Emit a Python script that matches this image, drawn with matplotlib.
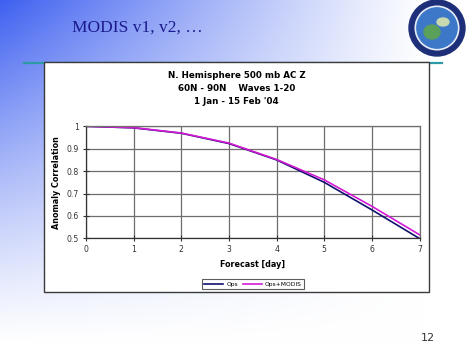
import numpy as np
import matplotlib.pyplot as plt
from matplotlib.patches import Rectangle, Ellipse
from matplotlib.lines import Line2D

# forecast day vs anomaly correlation
days = [0, 1, 2, 3, 4, 5, 6, 7]
ops = [1.0, 0.993, 0.969, 0.923, 0.850, 0.750, 0.627, 0.499]
ops_modis = [1.0, 0.994, 0.970, 0.925, 0.852, 0.761, 0.643, 0.516]

series_names = ['Ops', 'Ops+MODIS']
series_colors = ['#10106e', '#d419d4']

W, H = 474, 355
fig = plt.figure(figsize=(W / 100, H / 100), dpi=100)

# slide background: blue in the top-left corner fading to white
bg = fig.add_axes([0, 0, 1, 1], zorder=-10)
u = np.linspace(0, 1, W)[None, :]
v = np.linspace(0, 1, H)[:, None]
w = np.clip(1 - u / 0.9, 0, 1) ** 1.1 * np.clip(1 - v / 0.97, 0, 1) ** 1.2
top = np.array([62, 96, 240]) / 255.0
img = 1 - w[..., None] * (1 - top)
bg.imshow(img, extent=[0, 1, 0, 1], aspect='auto', origin='upper')
bg.set_xlim(0, 1)
bg.set_ylim(0, 1)
bg.axis('off')

# slide title + page number
fig.text(72 / W, 1 - 28 / H, 'MODIS v1, v2, \u2026', family='Liberation Serif',
         fontsize=12.5, color='#1a1a8c', va='center', ha='left')
fig.text(428 / W, 1 - 338 / H, '12', fontsize=8, color='#333333',
         va='center', ha='center')

# teal rule under the header (sits behind the chart box)
fig.add_artist(Line2D([24 / W, 442 / W], [1 - 62.5 / H, 1 - 62.5 / H],
                      color='#2e9aa6', lw=1.6, transform=fig.transFigure,
                      zorder=0.5))

# logo (rough)
cx, cy = 437 / W, 1 - 28 / H
rx, ry = 28 / W, 28 / H
for scale, col in [(1.0, '#1d2f78'), (0.78, '#e8eef8'), (0.72, '#3d78c8')]:
    fig.add_artist(Ellipse((cx, cy), 2 * rx * scale, 2 * ry * scale,
                           color=col, transform=fig.transFigure))
fig.add_artist(Ellipse((cx - 5 / W, cy - 4 / H), 16 / W, 14 / H,
                       color='#5aa05a', transform=fig.transFigure))
fig.add_artist(Ellipse((cx + 6 / W, cy + 6 / H), 12 / W, 8 / H,
                       color='#c8d8b0', transform=fig.transFigure))

# chart box
box_l, box_r, box_t, box_b = 44, 429, 61.7, 292
fig.add_artist(Rectangle((box_l / W, 1 - box_b / H), (box_r - box_l) / W,
                         (box_b - box_t) / H, facecolor='white',
                         edgecolor='#3a3a3a', lw=1.0, transform=fig.transFigure,
                         zorder=1))

# plot area
pl, pr, pt, pb = 86, 419.5, 126.3, 238.3
ax = fig.add_axes([pl / W, 1 - pb / H, (pr - pl) / W, (pb - pt) / H], zorder=2)
ax.set_facecolor('white')

ax.plot(days, ops, color=series_colors[0], lw=1.2, label=series_names[0])
ax.plot(days, ops_modis, color=series_colors[1], lw=1.2, label=series_names[1])

ax.set_xlim(0, 7)
ax.set_ylim(0.5, 1)
ax.set_xticks(days)
ax.set_yticks([0.5, 0.6, 0.7, 0.8, 0.9, 1])
ax.set_yticklabels(['0.5', '0.6', '0.7', '0.8', '0.9', '1'])
ax.grid(True, color='#6e6e6e', lw=0.9)
ax.set_axisbelow(True)
for s in ['top', 'right']:
    ax.spines[s].set_color('#6e6e6e')
    ax.spines[s].set_linewidth(0.9)
for s in ['left', 'bottom']:
    ax.spines[s].set_color('#333333')
    ax.spines[s].set_linewidth(0.9)
ax.tick_params(axis='both', direction='inout', length=4, width=0.8,
               labelsize=5.6, colors='#333333', pad=3)

ax.set_xlabel('Forecast [day]', fontsize=5.8, fontweight='bold', labelpad=4)
ax.set_ylabel('Anomaly Correlation', fontsize=5.8, fontweight='bold', labelpad=4)

fig.text(236.5 / W, 1 - 75.7 / H, 'N. Hemisphere 500 mb AC Z', ha='center',
         va='center', fontsize=6.3, fontweight='bold', zorder=3)
fig.text(236.5 / W, 1 - 88.7 / H, '60N - 90N    Waves 1-20', ha='center',
         va='center', fontsize=6.3, fontweight='bold', zorder=3)
fig.text(236.5 / W, 1 - 101.3 / H, "1 Jan - 15 Feb '04", ha='center',
         va='center', fontsize=6.3, fontweight='bold', zorder=3)

leg = fig.legend(loc='center', bbox_to_anchor=(253 / W, 1 - 284 / H),
                 ncol=2, fontsize=4.3, frameon=True, fancybox=False,
                 handlelength=3.2, handletextpad=0.5, columnspacing=0.8,
                 borderpad=0.45, edgecolor='#333333')
leg.get_frame().set_linewidth(0.8)
leg.set_zorder(3)

fig.savefig('out.png', dpi=100)
